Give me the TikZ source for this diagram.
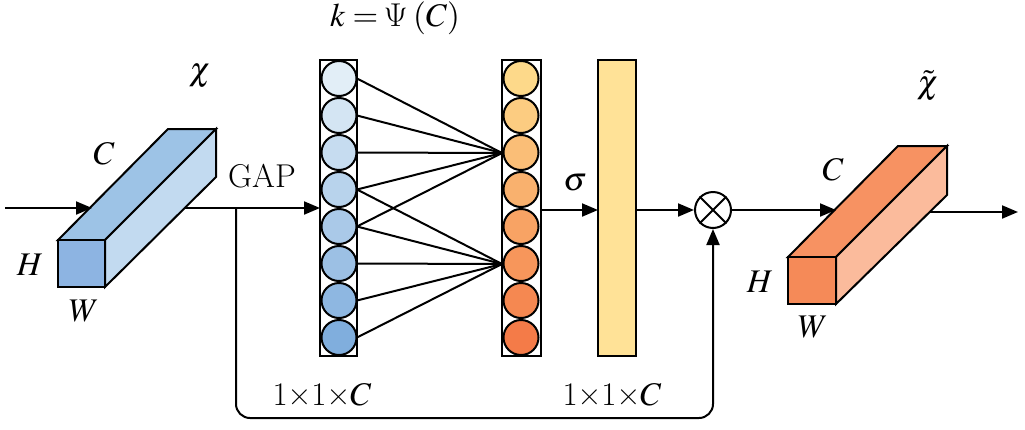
\documentclass[tikz,border=0pt]{standalone}
\usepackage[no-math]{fontspec}
\setmainfont{Liberation Serif}
\usepackage{mathptmx}
\usetikzlibrary{arrows.meta}
\definecolor{blueA}{HTML}{8DB4E2}
\definecolor{blueB}{HTML}{9DC3E6}
\definecolor{blueC}{HTML}{C2DAF0}
\definecolor{blueD}{HTML}{E2EEF7}
\definecolor{blueE}{HTML}{80AEDD}
\definecolor{oraA}{HTML}{F58A58}
\definecolor{oraB}{HTML}{F79262}
\definecolor{oraC}{HTML}{FBBB9C}
\definecolor{oraD}{HTML}{FDD98A}
\definecolor{oraE}{HTML}{F47B48}
\definecolor{barY}{HTML}{FFE297}
\tikzset{
  lbl/.style={font=\fontsize{33}{38}\selectfont},
  line/.style={line width=2pt},
  arr/.style={line width=2pt, -{Triangle[length=16pt,width=13pt]}},
  neu/.style={circle, draw, line width=2pt, minimum size=35pt, inner sep=0pt}
}
\begin{document}
\begin{tikzpicture}[x=1pt,y=-1pt]
	\useasboundingbox (0,0) rectangle (1025,429);
	% Eingangstensor
		\draw[line, fill=blueB] (58,240) -- (168,129) -- (216,129) -- (105,240) -- cycle;
		\draw[line, fill=blueC] (105,240) -- (216,129) -- (216,177) -- (105,287) -- cycle;
		\draw[line, fill=blueA] (58,240) rectangle (105,287);
		\coordinate (inL) at (5,208);
		\coordinate (inR) at (92,208);
		\coordinate (gapL) at (185,208);
		\node[lbl] (chi) at (200,76) {$\chi$};
		\node[lbl] at (104,154) {$C$};
		\node[lbl] at (30,265) {$H$};
		\node[lbl] at (84,311) {$W$};
		\node[lbl] (gap) at (262,176) {GAP};
	% Spalten
		\draw[line, fill=white] (320,60) rectangle (357,356);
		\draw[line, fill=white] (502,60) rectangle (541,356);
		\draw[line, fill=barY] (598,60) rectangle (636,356);
		\foreach \i in {1,...,8} {
			\pgfmathsetmacro{\t}{(\i-1)*100/7}
			\colorlet{cb}{blueE!\t!blueD}
			\colorlet{co}{oraE!\t!oraD}
			\node[neu, fill=cb] (a\i) at (339,60+37*\i-18.5) {};
			\node[neu, fill=co] (b\i) at (521,60+37*\i-18.5) {};
		}
		\coordinate (up) at (502,153);
		\coordinate (lo) at (502,264);
		\foreach \i in {1,...,5} \draw[line] (357,60+37*\i-18.5) -- (up);
		\foreach \i in {4,...,8} \draw[line] (357,60+37*\i-18.5) -- (lo);
		\node[lbl] (k) at (395,18) {$k=$\,\textit{Ψ}\,$(C)$};
		\node[lbl] at (575,183) {$\sigma$};
		\node[lbl] at (322,395) {1×1×$C$};
		\node[lbl] at (612,395) {1×1×$C$};
	% Multiplikation
		\node[circle, draw, line width=2pt, minimum size=36pt, inner sep=0pt] (mul) at (713,210) {};
		\draw[line] (mul.north west) -- (mul.south east) (mul.north east) -- (mul.south west);
	% Ausgangstensor
		\draw[line, fill=oraB] (788,257) -- (898,146) -- (947,146) -- (836,257) -- cycle;
		\draw[line, fill=oraC] (836,257) -- (947,146) -- (947,195) -- (836,304) -- cycle;
		\draw[line, fill=oraA] (788,257) rectangle (836,304);
		\node[lbl] at (928,86) {$\tilde{\chi}$};
		\node[lbl] at (833,170) {$C$};
		\node[lbl] at (760,282) {$H$};
		\node[lbl] at (813,327) {$W$};
		\coordinate (outIn) at (836,210);
		\coordinate (outL) at (930,212);
		\coordinate (outR) at (1018,212);
	% Pfeile
		\draw[arr] (inL) -- (inR);
		\draw[arr] (gapL) -- (320,208);
		\draw[arr] (541,210) -- (598,210);
		\draw[arr] (636,210) -- (mul.west);
		\draw[arr] (mul.east) -- (outIn);
		\draw[arr] (outL) -- (outR);
		\draw[arr, rounded corners=14pt] (236,208) -- (236,418) -- (713,418) -- (mul.south);
\end{tikzpicture}
\end{document}
